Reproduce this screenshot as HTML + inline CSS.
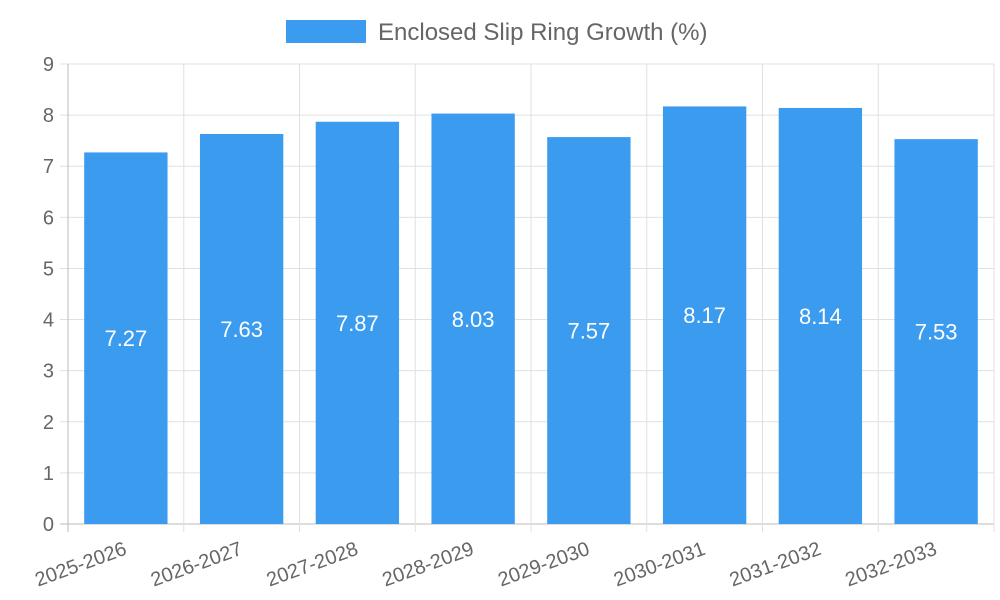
<!DOCTYPE html>
<html><head><meta charset="utf-8"><style>
html,body{margin:0;padding:0;background:#fff;}
svg{display:block;font-family:"Liberation Sans",sans-serif;}
</style></head><body>
<svg id="chart" width="1000" height="600">
<g>
<rect x="286" y="20" width="80" height="23" fill="#3a9bef"></rect>
<text x="378" y="40" font-size="24" fill="#666">Enclosed Slip Ring Growth (%)</text>
</g>
<g id="grid"></g>
<g id="bars"></g>
<g id="axes"></g>
</svg>
<script>
const categories = ["2025-2026","2026-2027","2027-2028","2028-2029","2029-2030","2030-2031","2031-2032","2032-2033"];
const values = [7.27,7.63,7.87,8.03,7.57,8.17,8.14,7.53];
const yTicks = [0,1,2,3,4,5,6,7,8,9];
const NS="http://www.w3.org/2000/svg";
const plotLeft=68,plotRight=994,plotTop=64,plotBottom=524,yMax=9;
const yScale=v=>plotBottom-(v/yMax)*(plotBottom-plotTop);
const band=(plotRight-plotLeft)/categories.length;
const xScale=i=>plotLeft+band*i;
const gridG=document.getElementById('grid'),barsG=document.getElementById('bars'),axesG=document.getElementById('axes');
function mk(tag,attrs,parent){const e=document.createElementNS(NS,tag);for(const k in attrs)e.setAttribute(k,attrs[k]);parent.appendChild(e);return e;}
yTicks.forEach(t=>{
  const l=mk('line',{x1:plotLeft-8,x2:plotRight,y1:yScale(t),y2:yScale(t),stroke:t===0?'#bbb':'#e0e0e0','stroke-width':1},gridG);
  
  
  const tx=mk('text',{x:plotLeft-14,y:yScale(t)+7,'text-anchor':'end','font-size':20,fill:'#666'},axesG);
  tx.textContent=t;
  
  
});
for(let i=0;i<=categories.length;i++){
  const l=mk('line',{x1:xScale(i),x2:xScale(i),y1:plotTop,y2:plotBottom+8,stroke:i===0?'#bbb':'#e0e0e0','stroke-width':1},gridG);
  
  
}
const bw=band*0.72;
categories.forEach((c,i)=>{
  const cx=xScale(i)+band/2;
  const r=mk('rect',{x:cx-bw/2,y:yScale(values[i]),width:bw,height:plotBottom-yScale(values[i]),fill:'#3a9bef'},barsG);
  
  
  const vt=mk('text',{x:cx,y:(yScale(values[i])+plotBottom)/2+8,'text-anchor':'middle','font-size':22,fill:'#fff'},barsG);
  vt.textContent=values[i].toFixed(2);
  
  
  const lx=cx+2,ly=plotBottom+30;
  const xt=mk('text',{x:lx,y:ly,'text-anchor':'end','font-size':20,fill:'#666',transform:'rotate(-20 '+lx+' '+ly+')'},axesG);
  xt.textContent=c;
  
  
});
</script>
</body></html>
